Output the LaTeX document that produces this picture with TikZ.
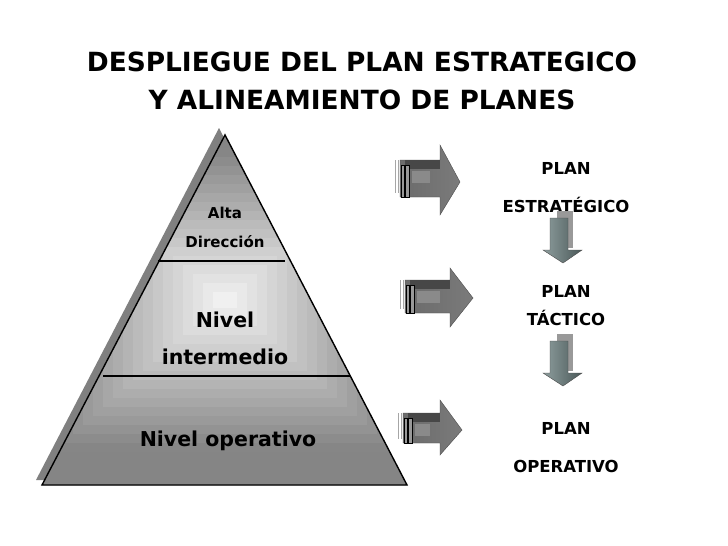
\documentclass[tikz,border=0pt]{standalone}
\usepackage{fontspec}
\setmainfont{DejaVu Sans}
\definecolor{slatedark}{HTML}{4A5858}
\definecolor{slatelight}{HTML}{8E9E9E}
\begin{document}
\begin{tikzpicture}[x=1pt,y=-1pt,
  ttl/.style={font=\fontsize{26.4}{30}\selectfont\bfseries},
  lbl/.style={font=\fontsize{15}{17}\selectfont\bfseries,align=center},
  big/.style={font=\fontsize{20.5}{22}\selectfont\bfseries,align=center},
  sml/.style={font=\fontsize{16.5}{18}\selectfont\bfseries,align=center},
  rarrow/.style={draw=black!70,line width=0.4pt,left color=black!58,right color=black!52},
  darrow/.style={draw=black!70,line width=0.4pt,left color=slatelight,right color=slatedark},
  bar/.style={draw=black,line width=0.6pt,fill=black!40},
  gbar/.style={draw=black!35,line width=0.8pt}]
\useasboundingbox (0,0) rectangle (728,546);
\fill[white] (0,0) rectangle (728,546);
% title
\node[ttl] (t1) at (362,62) {DESPLIEGUE DEL PLAN ESTRATEGICO};
\node[ttl] (t2) at (362,100) {Y ALINEAMIENTO DE PLANES};
% pyramid shadow
\fill[black!50] (219,128) -- (36,480) -- (401,480) -- cycle;
% pyramid body
\begin{scope}
  \clip (225,135) -- (42,485) -- (407,485) -- cycle;
  \foreach \i in {22,21,...,0}{
    \pgfmathsetmacro{\c}{min(48,6+2.6*\i)}
    \fill[black!\c] (225-12-10*\i,300-8-9*\i) rectangle (225+12+10*\i,300+8+9*\i);
  }
\end{scope}
\draw[line width=1.4pt] (225,135) -- (42,485) -- (407,485) -- cycle;
\draw[line width=1.2pt] (158,261) -- (285,261);
\draw[line width=1.2pt] (103,376) -- (350,376);
\node[lbl] (alta) at (225,213) {Alta};
\node[lbl] (dir) at (225,242) {Dirección};
\node[big] (niv) at (225,320) {Nivel};
\node[big] (int) at (225,357) {intermedio};
\node[big] (op) at (228,441) {Nivel operativo};
% right arrows
\foreach \lx/\bt/\bb/\hx/\hT/\hB/\tx/\ty in
  {400/160/197/440/145/215/460/182, 405/280/313/450/268/327/473/298, 403/413/443/440/400/455/462/430}{
    \draw[rarrow] (\lx,\bt) -- (\hx,\bt) -- (\hx,\hT) -- (\tx,\ty) -- (\hx,\hB) -- (\hx,\bb) -- (\lx,\bb) -- cycle;
    \fill[black!72] (\lx+5,\bt) rectangle (\hx,\bt+9);
    \fill[black!46] (\lx+12,\bt+11) rectangle (\hx-10,\bt+23);
    \draw[gbar] (\lx-5,\bt) -- (\lx-5,\bb-4);
    \draw[gbar] (\lx-1.5,\bt) -- (\lx-1.5,\bb-4);
    \draw[bar] (\lx+1,\bt+5) rectangle (\lx+4,\bb);
    \draw[bar] (\lx+5,\bt+5) rectangle (\lx+9,\bb);
}
% right texts
\node[sml] (p1) at (566,168) {PLAN};
\node[sml] (e1) at (566,205) {ESTRATÉGICO};
\node[sml] (p2) at (566,291) {PLAN};
\node[sml] (e2) at (566,318) {TÁCTICO};
\node[sml] (p3) at (566,428) {PLAN};
\node[sml] (e3) at (566,466) {OPERATIVO};
% down arrows
\foreach \dy in {0,123}{
  \begin{scope}[shift={(0,\dy)}]
    \fill[black!40] (557,211) rectangle (573,248);
    \draw[darrow] (550,218) -- (568,218) -- (568,250) -- (582,250) -- (563,263) -- (543,250) -- (550,250) -- cycle;
  \end{scope}
}
\end{tikzpicture}
\end{document}
